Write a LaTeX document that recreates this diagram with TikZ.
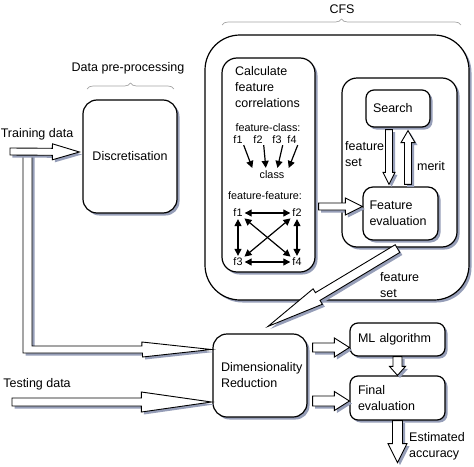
\documentclass[tikz,border=0pt]{standalone}
\usepackage{fontspec}
\setmainfont{Liberation Sans}
\usetikzlibrary{arrows.meta}
\usetikzlibrary{calc}
\usetikzlibrary{shadows}
\usetikzlibrary{decorations.pathreplacing}
\definecolor{shadowblue}{RGB}{150,158,184}
\definecolor{bracegray}{RGB}{165,165,165}
\newcommand{\bigtxt}{\fontsize{12.5}{16}\selectfont}
\newcommand{\smalltxt}{\fontsize{10.8}{13}\selectfont}
\tikzset{
  every node/.style={font=\bigtxt},
  boxshadow/.style={drop shadow={shadow xshift=2.5pt, shadow yshift=-2.5pt, fill=shadowblue, opacity=1}},
  box/.style={draw, line width=1.2pt, fill=white, boxshadow, inner sep=0pt},
  fat/.style={draw, line width=0.9pt, fill=white, line join=miter, boxshadow},
  ffarrow/.style={line width=1.2pt, shorten >=2pt, -{Triangle[length=7pt,width=7pt]}},
  ffboth/.style={line width=1.2pt, shorten >=1pt, shorten <=1pt, {Triangle[length=7pt,width=7pt]}-{Triangle[length=7pt,width=7pt]}},
  curly/.style={draw=bracegray, line width=0.7pt, decorate, decoration={brace, amplitude=6pt}},
  flabel/.style={font=\smalltxt, inner sep=1pt}
}
% hollow block arrow: from, to, shaft half width, head half width, head length
\newcommand{\fatarrow}[5]{%
  \path (#1) coordinate (fa-a) (#2) coordinate (fa-b);
  \pgfpointdiff{\pgfpointanchor{fa-a}{center}}{\pgfpointanchor{fa-b}{center}}%
  \pgfgetlastxy{\fadx}{\fady}%
  \pgfmathsetmacro{\faang}{atan2(\fady,\fadx)}%
  \pgfmathsetmacro{\falen}{veclen(\fadx,\fady)}%
  \draw[fat, shift={(fa-a)}, rotate=\faang] (0,#3) -- ({\falen-#5},#3) -- ({\falen-#5},#4) -- (\falen,0)
    -- ({\falen-#5},-#4) -- ({\falen-#5},-#3) -- (0,-#3) -- cycle;
}
\begin{document}
\begin{tikzpicture}[x=1pt, y=-1pt]
\useasboundingbox (0,0) rectangle (474,466);

\node (cfslabel) at (342,9) {CFS};
\draw[curly] (222,25) -- (461,25);
\node (prelabel) at (128,68) {Data pre-processing};
\draw[curly] (87,89) -- (174,89);

\node[box, rounded corners=14pt, minimum width=94pt, minimum height=113pt] (disc) at (130,156.5) {Discretisation};
\node[box, rounded corners=35pt, minimum width=264pt, minimum height=265pt] (cfs) at (337,167.5) {};
\node[box, rounded corners=15pt, minimum width=93pt, minimum height=214pt] (calc) at (268.5,165) {};
\node[box, rounded corners=15pt, minimum width=115pt, minimum height=169pt] (loop) at (399.5,162.5) {};
\node[box, rounded corners=8pt, minimum width=64pt, minimum height=37pt, text width=50pt, align=left] (search) at (398,108.5) {Search};
\node[box, rounded corners=10pt, minimum width=75pt, minimum height=53pt, text width=62pt, align=left] (feval) at (400.5,213.5) {Feature\\evaluation};
\node[box, rounded corners=14pt, minimum width=94pt, minimum height=83pt, text width=78pt, align=left] (dr) at (260,375.5) {Dimensionality\\Reduction};
\node[box, rounded corners=8pt, minimum width=95pt, minimum height=33pt, text width=79pt, align=left] (ml) at (397.5,339.5) {ML algorithm};
\node[box, rounded corners=8pt, minimum width=95pt, minimum height=44pt, text width=79pt, align=left] (fin) at (397.5,398) {Final\\evaluation};

% correlations
\node[anchor=west, align=left, inner sep=0pt] (calctitle) at (235,87) {Calculate\\feature\\correlations};
\node[flabel] (fclabel) at (268,128) {feature-class:};
\foreach \i/\x in {1/238,2/258,3/277,4/292}
  \node[flabel] (fc\i) at (\x,140) {f\i};
\node[flabel] (class) at (272,175) {class};
\foreach \i/\dx in {1/-19,2/-6,3/5,4/16}
  \draw[ffarrow] (fc\i.south east) -- ([xshift=\dx pt]class.north);
\node[flabel] (fflabel) at (265,196) {feature-feature:};
\node[flabel] (ff1) at (238,213) {f1};
\node[flabel] (ff2) at (297,213) {f2};
\node[flabel] (ff3) at (238,262) {f3};
\node[flabel] (ff4) at (297,262) {f4};
\foreach \a/\b in {1/2,3/4,1/3,2/4,1/4,2/3}
  \draw[ffboth] (ff\a) -- (ff\b);

% block arrows
\coordinate (trainin) at (10,151.5);
\coordinate (tsplit) at (27.5,152);
\coordinate (tcorner) at (27.5,349.5);
\coordinate (testin) at (12,402);
\coordinate (accout) at ($(fin.south)+(0,42)$);
\draw[fat] ([shift={(-4.5,0)}]tsplit) |- ([shift={(115,3.5)}]tcorner) -- ++(0,4) -- ($(dr.west)+(-1,-26)$)
  -- ++(-69.5,-7.5) -- ++(0,4) -| ([shift={(4.5,0)}]tsplit);
\fatarrow{trainin}{$(disc.west)+(-3,-4.5)$}{3.5}{8}{27}
\fatarrow{testin}{$(dr.west)+(-1,26.5)$}{4}{10}{70}
\fatarrow{$(calc.east)+(3,41.5)$}{$(feval.west)+(0,-7)$}{3.5}{8.5}{17}
\fatarrow{$(search.south)+(-9,2)$}{$(feval.north)+(-11.5,-2)$}{3.5}{6}{12}
\fatarrow{$(feval.north)+(7.5,-2)$}{$(search.south)+(10,3)$}{3.5}{7}{12}
\fatarrow{$(feval.south)+(-3,8)$}{$(dr.north)+(8,-7)$}{4.5}{9}{58}
\fatarrow{$(dr.east)+(5,-28)$}{$(ml.west)+(0,8)$}{4.5}{9.5}{15}
\fatarrow{$(dr.east)+(5,25.5)$}{$(fin.west)+(0,3)$}{5}{9.5}{15}
\fatarrow{ml.south}{fin.north}{4.5}{8}{9}
\fatarrow{fin.south}{accout}{5}{9.5}{19}

% labels
\node (trainlabel) at (37,134) {Training data};
\node (testlabel) at (37,384) {Testing data};
\node[anchor=west, align=left, inner sep=0pt] (fsetlabel) at (345,154) {feature\\set};
\node[inner sep=0pt] (meritlabel) at (431,166) {merit};
\node[anchor=west, align=left, inner sep=0pt] (fsetlabelb) at (380,285) {feature\\set};
\node[anchor=west, align=left, inner sep=0pt] (acclabel) at (409,446.5) {Estimated\\accuracy};
\end{tikzpicture}
\end{document}
